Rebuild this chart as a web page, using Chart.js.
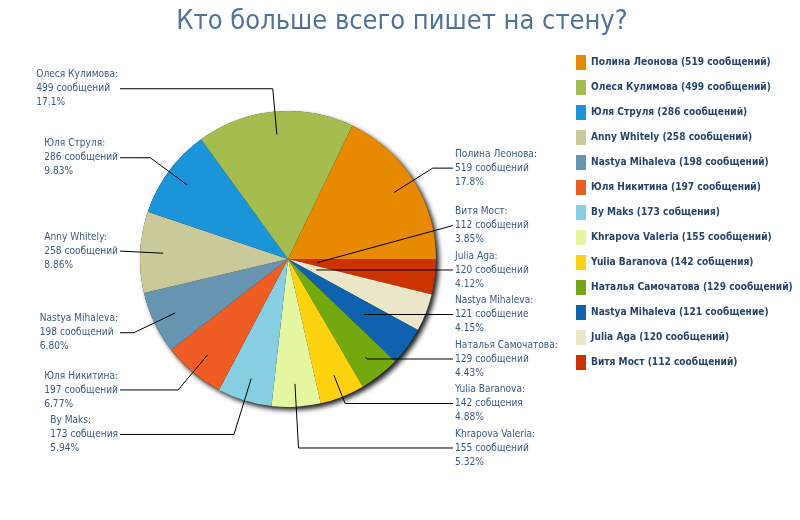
<!DOCTYPE html>
<html>
<head>
<meta charset="utf-8">
<script src="https://cdn.jsdelivr.net/npm/chart.js@4.4.1/dist/chart.umd.min.js"></script>
<style>
  html, body { margin: 0; padding: 0; background: #fff; overflow: hidden; }
  canvas { display: block; }
</style>
</head>
<body>
<canvas id="wallChart" width="800" height="520"></canvas>
<script>
// data, in legend order
const names = ['Полина Леонова', 'Олеся Кулимова', 'Юля Струля', 'Anny Whitely', 'Nastya Mihaleva',
  'Юля Никитина', 'By Maks', 'Khrapova Valeria', 'Yulia Baranova', 'Наталья Самочатова',
  'Nastya Mihaleva', 'Julia Aga', 'Витя Мост'];
const counts = [519, 499, 286, 258, 198, 197, 173, 155, 142, 129, 121, 120, 112];
const units = ['сообщений', 'сообщений', 'сообщений', 'сообщений', 'сообщений', 'сообщений',
  'собщения', 'сообщений', 'собщения', 'сообщений', 'сообщение', 'сообщений', 'сообщений'];
const colors = ['#e78a00', '#a5bc4e', '#1b95d9', '#cac99a', '#6794b1', '#ef5d25', '#86cfe2',
  '#e4f7a0', '#fdd30f', '#74a80f', '#0e62b0', '#ece6c9', '#cc3300'];

const total = counts.reduce((a, b) => a + b, 0);

// percent cut (not rounded) to 3 digits, like the original
function pct(v) {
  const p = v / total * 100;
  const d = p >= 10 ? 1 : 2;
  const m = Math.pow(10, d);
  return (Math.floor(p * m + 1e-9) / m).toFixed(d) + '%';
}

// the original goes counter-clockwise, chart.js goes clockwise -> reverse
const rev = arr => arr.slice().reverse();
const legendText = names.map((n, i) => n + ' (' + counts[i] + ' ' + units[i] + ')');

const textFont = '"DejaVu Sans Condensed", "DejaVu Sans", sans-serif';

// dark shadow under the pie
const pieShadow = {
  id: 'pieShadow',
  beforeDatasetsDraw(chart) {
    const arc = chart.getDatasetMeta(0).data[0];
    if (!arc) return;
    const ctx = chart.ctx;
    ctx.save();
    ctx.shadowColor = 'rgba(0,0,0,0.9)';
    ctx.shadowBlur = 5;
    ctx.shadowOffsetX = 3;
    ctx.shadowOffsetY = 3;
    ctx.fillStyle = '#222';
    ctx.beginPath();
    ctx.arc(arc.x, arc.y, arc.outerRadius, 0, Math.PI * 2);
    ctx.fill();
    ctx.restore();
  }
};

// outside labels with leader lines
const sliceLabels = {
  id: 'sliceLabels',
  afterDatasetsDraw(chart) {
    const meta = chart.getDatasetMeta(0);
    const ctx = chart.ctx;
    const ds = chart.data.datasets[0];
    const items = meta.data.map((arc, i) => {
      const a = (arc.startAngle + arc.endAngle) / 2;
      const r = arc.outerRadius;
      return {
        i, a, r, cx: arc.x, cy: arc.y,
        right: Math.cos(a) >= 0,
        y: arc.y + r * 1.155 * Math.sin(a)
      };
    });
    const gap = 44.5;
    [true, false].forEach(side => {
      const list = items.filter(it => it.right === side).sort((p, q) => p.y - q.y);
      if (!list.length) return;
      const limit = list[0].cy + list[0].r * 1.277;
      for (let k = 1; k < list.length; k++) list[k].y = Math.max(list[k].y, list[k - 1].y + gap);
      const last = list.length - 1;
      list[last].y = Math.min(list[last].y, limit);
      for (let k = last - 1; k >= 0; k--) list[k].y = Math.min(list[k].y, list[k + 1].y - gap);
    });

    ctx.save();
    ctx.font = '10.1px ' + textFont;
    ctx.textBaseline = 'middle';
    items.forEach(it => {
      const idx = it.i;
      const {a, r, cx, cy} = it;
      const s = Math.sin(a), c = Math.cos(a);
      const attachX = it.right ? cx + r * 1.115 : cx - r * 1.135;
      const r0 = r * 0.845, rMin = r * 0.2;
      const rT = s !== 0 ? (it.y - cy) / s : Infinity;
      const pts = [];
      if (rT >= r0) {
        const ex = cx + rT * c;
        pts.push([cx + r0 * c, cy + r0 * s]);
        const past = it.right ? ex > attachX : ex < attachX;
        if (!past) pts.push([ex, it.y]);
      } else if (rT >= rMin) {
        pts.push([cx + rT * c, it.y]);
      } else {
        pts.push([cx + rMin * c, cy + rMin * s]);
      }
      pts.push([attachX, it.y]);

      ctx.strokeStyle = '#000';
      ctx.lineWidth = 1;
      ctx.beginPath();
      pts.forEach((p, k) => k ? ctx.lineTo(p[0], p[1]) : ctx.moveTo(p[0], p[1]));
      ctx.stroke();

      const lines = [ds.names[idx] + ':', ds.data[idx] + ' ' + ds.units[idx], pct(ds.data[idx])];
      const w = Math.max(...lines.map(l => ctx.measureText(l).width));
      const tx = it.right ? attachX + 2 : attachX - 2 - w;
      ctx.fillStyle = '#3d5a7b';
      ctx.textAlign = 'left';
      lines.forEach((l, k) => ctx.fillText(l, tx, it.y + (k - 1) * 14));
    });
    ctx.restore();
  }
};

function createChart() {
  const ctx = document.getElementById('wallChart').getContext('2d');
  new Chart(ctx, {
    type: 'pie',
    data: {
      labels: rev(legendText),
      datasets: [{
        data: rev(counts),
        names: rev(names),
        units: rev(units),
        backgroundColor: rev(colors),
        borderWidth: 0,
        radius: 148
      }]
    },
    options: {
      responsive: false,
      animation: false,
      events: [],
      rotation: 90,
      layout: { padding: { left: 10, right: 6, top: 0, bottom: 47 } },
      plugins: {
        title: {
          display: true,
          text: 'Кто больше всего пишет на стену?',
          color: '#50729b',
          font: { family: textFont, size: 27, weight: 'normal', lineHeight: 1.2 },
          padding: { top: 6, bottom: 6.6 }
        },
        legend: {
          position: 'right',
          align: 'start',
          fullSize: false,
          reverse: true,
          maxWidth: 228,
          labels: {
            boxWidth: 10,
            boxHeight: 15,
            padding: 10,
            color: '#27456a',
            font: { family: textFont, size: 10.1, weight: 'bold' }
          }
        },
        tooltip: { enabled: false }
      }
    },
    plugins: [pieShadow, sliceLabels]
  });
}

window.onload = createChart;
</script>
</body>
</html>
